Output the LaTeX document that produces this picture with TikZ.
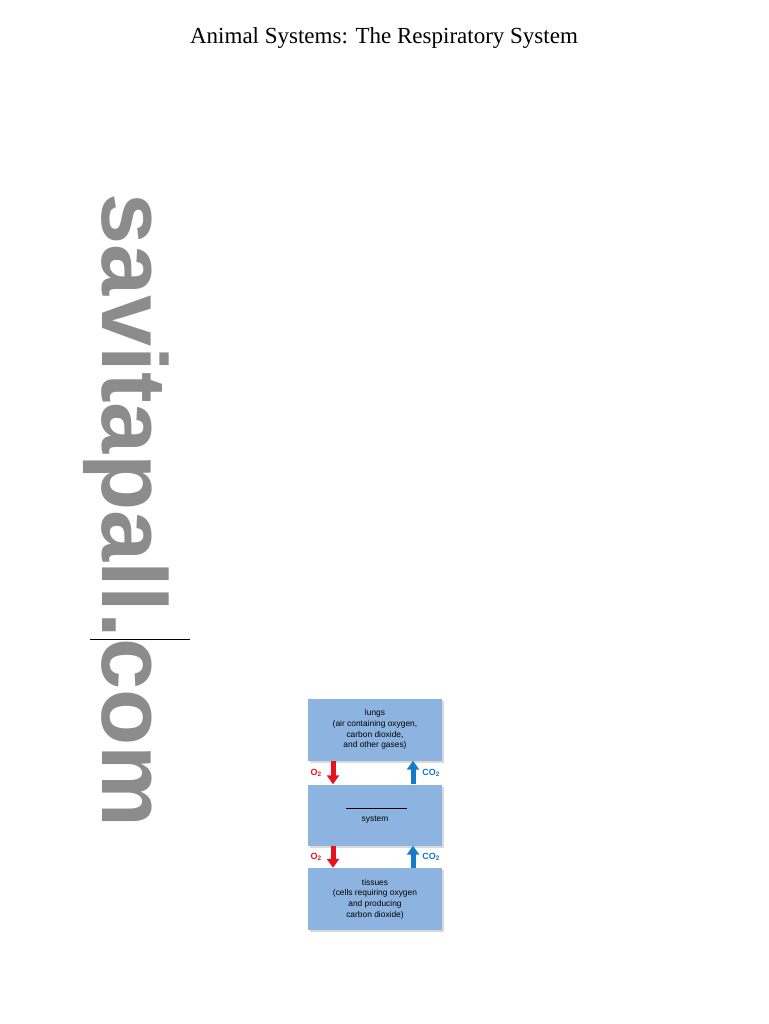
\documentclass[tikz,border=0pt]{standalone}
\usepackage{fontspec}
\setmainfont{Liberation Serif}
\newfontfamily\sansf{Liberation Sans}
\usetikzlibrary{arrows.meta,shadows}
\definecolor{boxblue}{RGB}{141,180,224}
\definecolor{arrred}{RGB}{232,18,30}
\definecolor{arrblue}{RGB}{22,122,204}
\definecolor{wmgray}{RGB}{140,140,140}
\begin{document}
\begin{tikzpicture}[x=1pt,y=-1pt,
  flowbox/.style={fill=boxblue, minimum width=134pt, minimum height=62pt, inner sep=0pt,
    align=center, font=\sansf\fontsize{8.4}{10.7}\selectfont, text=black,
    drop shadow={shadow xshift=2pt,shadow yshift=-2pt,fill=black!15,opacity=1}},
  downarr/.style={draw=arrred, line width=5pt, -{Triangle[width=12pt,length=9pt]}},
  uparr/.style={draw=arrblue, line width=5pt, -{Triangle[width=12pt,length=9pt]}},
  gaslabel/.style={font=\sansf\bfseries\fontsize{9}{9}\selectfont, inner sep=0pt}
]
\useasboundingbox (0,0) rectangle (768,1024);
\fill[white] (0,0) rectangle (768,1024);
\node[font=\fontsize{23}{26}\selectfont] (title) at (384,38) {Animal Systems: The Respiratory System};
\node[rotate=-90, anchor=base west, inner sep=0pt, text=wmgray,
  font=\sansf\bfseries\fontsize{92}{92}\selectfont] (wm) at (102,193) {savitapall.com};
\coordinate (la) at (90,639);
\coordinate (lb) at (190,639);
\draw[line width=1pt] (la) -- (lb);

\node[flowbox] (lungs) at (375,729.5) {lungs\\(air containing oxygen,\\carbon dioxide,\\and other gases)};
\node[flowbox, minimum height=61pt] (sys) at (375,815) {};
\node[flowbox] (tis) at (375,899) {tissues\\(cells requiring oxygen\\and producing\\carbon dioxide)};

\coordinate (blankA) at (346,808);
\coordinate (blankB) at (407,808);
\draw[line width=0.9pt, black] (blankA) -- (blankB);
\node[font=\sansf\fontsize{8.4}{10}\selectfont, text=black] (systxt) at (375,820) {system};

\draw[downarr] ([xshift=-42pt]lungs.south) -- ([xshift=-42pt]sys.north);
\draw[uparr] ([xshift=38pt]sys.north) -- ([xshift=38pt]lungs.south);
\draw[downarr] ([xshift=-42pt]sys.south) -- ([xshift=-42pt]tis.north);
\draw[uparr] ([xshift=38pt]tis.north) -- ([xshift=38pt]sys.south);

\node[gaslabel, text=arrred] (o2a) at (316,773) {O\raisebox{-1.5pt}{\fontsize{6.5}{6.5}\selectfont 2}};
\node[gaslabel, text=arrblue] (co2a) at (431,773) {CO\raisebox{-1.5pt}{\fontsize{6.5}{6.5}\selectfont 2}};
\node[gaslabel, text=arrred] (o2b) at (316,857) {O\raisebox{-1.5pt}{\fontsize{6.5}{6.5}\selectfont 2}};
\node[gaslabel, text=arrblue] (co2b) at (431,857) {CO\raisebox{-1.5pt}{\fontsize{6.5}{6.5}\selectfont 2}};
\end{tikzpicture}
\end{document}
